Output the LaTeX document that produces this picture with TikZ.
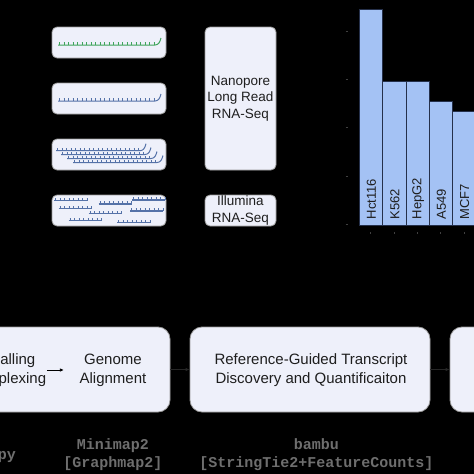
\documentclass[tikz,border=0pt]{standalone}
\usepackage{fontspec}
\setmainfont{Liberation Sans}
\setmonofont{Liberation Mono}
\usetikzlibrary{arrows.meta}
\definecolor{boxfill}{HTML}{EEF0FA}
\definecolor{boxline}{HTML}{9A9A9A}
\definecolor{readgreen}{HTML}{3FA45B}
\definecolor{readblue}{HTML}{5572A8}
\definecolor{barfill}{HTML}{A4C2F4}
\definecolor{barline}{HTML}{25304A}
\definecolor{toolgray}{HTML}{6E6E6E}
\definecolor{txt}{HTML}{1E1E1E}
\newcommand\myread[4]{% color, x0, x1, y
  \draw[#1, line width=1pt] (#2,#4) -- (#3,#4) .. controls (#3+3.5,#4) and (#3+5,#4-3) .. (#3+6,#4-7);
  \draw[#1, line width=2.8pt, dash pattern=on 0.8pt off 3.7pt] (#2+1,#4-1.4) -- (#3,#4-1.4);
}
\newcommand\myshort[4]{% color, x0, x1, y
  \draw[#1, line width=1.2pt] (#2,#4) -- (#3,#4);
  \draw[#1, line width=2.8pt, dash pattern=on 0.8pt off 3.7pt] (#2+1,#4-1.4) -- (#3,#4-1.4);
}
\begin{document}
\begin{tikzpicture}[x=1pt,y=-1pt,
  readbox/.style={draw=boxline, fill=boxfill, rounded corners=5pt, minimum width=114pt, minimum height=31pt, inner sep=0pt, line width=0.8pt},
  seqbox/.style={draw=boxline, fill=boxfill, rounded corners=5pt, minimum width=71pt, inner sep=0pt, line width=0.8pt, text=txt, align=center, font=\fontsize{13.5}{16.5}\selectfont},
  stepbox/.style={draw=boxline, fill=boxfill, rounded corners=12pt, minimum height=85pt, inner sep=0pt, line width=0.8pt},
  steptext/.style={text=txt, align=center, inner sep=0pt, font=\fontsize{15}{19}\selectfont},
  tool/.style={text=toolgray, align=center, inner sep=0pt, font=\fontsize{15}{18}\selectfont\ttfamily\bfseries},
  barlabel/.style={rotate=90, anchor=west, inner sep=0pt, text=txt, font=\fontsize{13}{15}\selectfont},
  conn/.style={draw=black!85!white, line width=0.8pt, -{Latex[length=4pt,width=3.5pt]}},
  tick/.style={draw=black!75!white, line width=0.8pt}
]
\useasboundingbox (0,0) rectangle (474,474);
\clip (0,0) rectangle (474,474);
\fill[black] (0,0) rectangle (474,474);

% read boxes
\node[readbox] (rb1) at (109,42.5) {};
\node[readbox] (rb2) at (109,98.5) {};
\node[readbox] (rb3) at (109,154.5) {};
\node[readbox] (rb4) at (109,210.5) {};

\myread{readgreen}{58}{155}{45}
\myread{readblue}{58}{155}{101}
\myread{readblue}{56}{140}{150.7}
\myread{readblue}{61}{145}{154.5}
\myread{readblue}{67}{151}{158.5}
\myread{readblue}{73}{157}{162.5}

\myshort{readblue}{54}{87}{200.5}
\myshort{readblue}{132}{165}{200}
\myshort{readblue}{98.5}{131.5}{204}
\myshort{readblue}{58.5}{91.5}{208.5}
\myshort{readblue}{130}{163}{211}
\myshort{readblue}{88.5}{121.5}{213.5}
\myshort{readblue}{68.5}{101.5}{220.5}
\myshort{readblue}{117}{150}{222.5}

% sequencing boxes
\node[seqbox, minimum height=143pt] (nano) at (240.5,98.5) {Nanopore\\Long Read\\RNA-Seq};
\node[seqbox, minimum height=31pt] (illu) at (240.5,210.5) {Illumina\\RNA-Seq};

% bar chart
\foreach \yy in {31,79,127,176,224} \draw[tick] (345.5,\yy) -- (347.5,\yy);
\foreach \xx in {370.7,394,417.3,440.6,463.9} \draw[tick] (\xx,232) -- (\xx,234);
\draw[fill=barfill, draw=barline, line width=0.8pt] (359.3,225.3) rectangle (382.6,9.3);
\draw[fill=barfill, draw=barline, line width=0.8pt] (382.6,225.3) rectangle (405.9,81);
\draw[fill=barfill, draw=barline, line width=0.8pt] (405.9,225.3) rectangle (429.2,81);
\draw[fill=barfill, draw=barline, line width=0.8pt] (429.2,225.3) rectangle (452.5,101);
\draw[fill=barfill, draw=barline, line width=0.8pt] (452.5,225.3) rectangle (475.8,111.7);
\node[barlabel] (l1) at (371.5,219.5) {Hct116};
\node[barlabel] (l2) at (394.8,219.5) {K562};
\node[barlabel] (l3) at (418.1,219.5) {HepG2};
\node[barlabel] (l4) at (441.4,219.5) {A549};
\node[barlabel] (l5) at (464.7,219.5) {MCF7};

% pipeline
\node[stepbox, minimum width=320pt] (boxA) at (10,369.5) {};
\node[stepbox, minimum width=240pt] (boxB) at (310,369.5) {};
\node[stepbox, minimum width=240pt] (boxC) at (570,369.5) {};
\node[steptext] (bc) at (-3,370) {Basecalling\\Demultiplexing};
\node[steptext] (ga) at (113,370) {Genome\\Alignment};
\node[steptext] (rg) at (311,370) {Reference-Guided Transcript\\Discovery and Quantificaiton};
\draw[line width=0.8pt, -{Latex[length=4pt,width=3.5pt]}, shorten <=0.5pt, shorten >=15.5pt] (bc) -- (ga);
\draw[conn] (boxA) -- (boxB);
\draw[conn] (boxB) -- (boxC);

\node[tool] (t0) at (-6.5,456) {Guppy};
\node[tool] (t1) at (113,455) {Minimap2\\{[Graphmap2]}};
\node[tool] (t2) at (316.5,455) {bambu\\{[StringTie2+FeatureCounts]}};
\end{tikzpicture}
\end{document}
